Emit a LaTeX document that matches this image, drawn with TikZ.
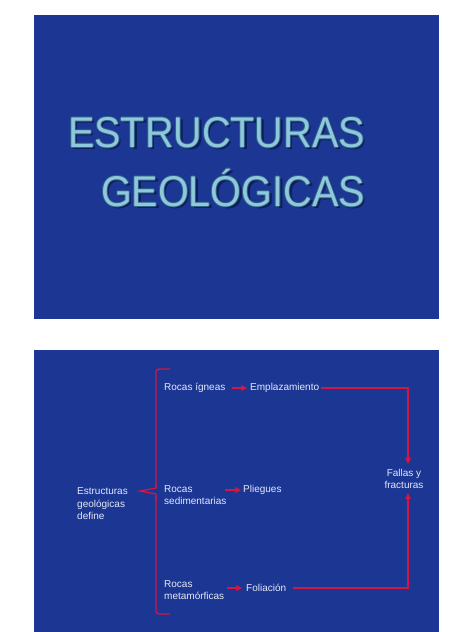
\documentclass[tikz,border=0pt]{standalone}
\usepackage{fontspec}
\setmainfont{Liberation Sans}
\usetikzlibrary{arrows.meta}

\definecolor{slideblue}{RGB}{28,54,148}
\definecolor{titlefill}{RGB}{142,200,220}
\definecolor{titleline}{RGB}{50,98,134}
\definecolor{titleshadow}{RGB}{14,30,88}
\definecolor{linkred}{RGB}{214,22,62}
\definecolor{itemcolor}{RGB}{228,232,246}

\tikzset{
    slide/.style={fill=slideblue, draw=none},
    titletext/.style={font=\fontsize{43}{43}\selectfont, inner sep=0pt, anchor=base east, xscale=0.92},
    itemtext/.style={font=\fontsize{10}{12.5}\selectfont, text=itemcolor, inner sep=0pt, anchor=west, align=left},
    link/.style={draw=linkred, line width=1.3pt, -{Stealth[length=6pt,width=6pt,inset=1pt]}},
    bracket/.style={draw=linkred, line width=1.3pt},
}

\begin{document}
\begin{tikzpicture}[x=1pt, y=-1pt]
    \fill[white] (0,0) rectangle (474,632);
    \useasboundingbox (0,0) rectangle (474,632);

    % the two slides
    \fill[slide] (34,15) rectangle (439,319);
    \fill[slide] (34,350) rectangle (439,632);

    % title, shadow and outline first
    \foreach \word/\ypos/\name in {ESTRUCTURAS/147/titleA, GEOLÓGICAS/206/titleB} {
            \node[titletext, text=titleshadow] at (367.5,\ypos+2.5) {\word};
            \foreach \dx/\dy in {-1/0, 1/0, 0/-1, 0/1} {
                    \node[titletext, text=titleline] at (365+\dx,\ypos+\dy) {\word};
                }
            \node[titletext, text=titlefill] (\name) at (365,\ypos) {\word};
        }

    % diagram
    \node[itemtext] (estr) at (77,504) {Estructuras\\geológicas\\define};
    \node[itemtext] (ign) at (164,388) {Rocas ígneas};
    \node[itemtext] (empl) at (250,388) {Emplazamiento};
    \node[itemtext] (sed) at (164,495) {Rocas\\sedimentarias};
    \node[itemtext] (pli) at (243,490) {Pliegues};
    \node[itemtext] (met) at (164,590) {Rocas\\metamórficas};
    \node[itemtext] (fol) at (246,588) {Foliación};
    \node[itemtext, anchor=center, align=center] (fal) at (404,479) {Fallas y\\fracturas};

    \coordinate (bracetip) at (140,491);
    \draw[bracket, rounded corners=3pt] (170,369) -- (156,369) -- (156,486);
    \draw[bracket, rounded corners=3pt] (156,496) -- (156,614) -- (170,614);
    \draw[bracket, line join=miter] (156,484) -- (156,488) -- (bracetip) -- (156,494) -- (156,498);

    \draw[link, shorten <=6pt, shorten >=3pt] (ign.east) -- (empl.west);
    \draw[link, shorten <=-2pt, shorten >=2pt] (sed.east |- pli.west) -- (pli.west);
    \draw[link, shorten <=3pt, shorten >=4pt] (met.east |- fol.west) -- (fol.west);
    \draw[link, shorten <=2pt, shorten >=5pt] (empl.east) -| ([xshift=4pt]fal.north);
    \draw[link, shorten <=7pt, shorten >=4pt] (fol.east) -| ([xshift=4pt]fal.south);
\end{tikzpicture}
\end{document}
